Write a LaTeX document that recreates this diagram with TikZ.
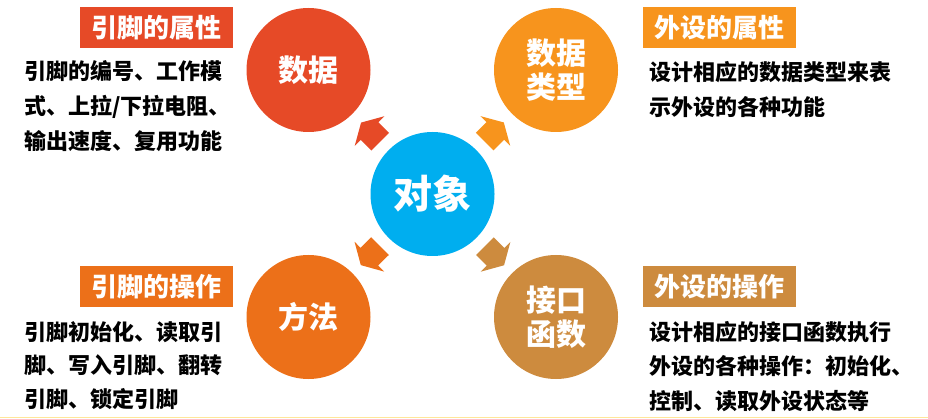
\documentclass[tikz,border=0pt]{standalone}
\usepackage{fontspec}
\newfontfamily\cjk{Noto Sans CJK SC Black}
\usetikzlibrary{calc}

\definecolor{cred}{HTML}{E64A27}
\definecolor{corange}{HTML}{F7941D}
\definecolor{cblue}{HTML}{00AEEF}
\definecolor{cdark}{HTML}{EC7019}
\definecolor{cbrown}{HTML}{CD8B3E}
\definecolor{cline}{HTML}{FFE699}

\tikzset{
  ball/.style={circle,minimum size=124pt,inner sep=0pt,text=white,align=center,
    font=\cjk\fontsize{30}{34}\selectfont},
  tag/.style={minimum width=153pt,minimum height=41pt,inner sep=0pt,text=white,
    font=\cjk\fontsize{26}{30}\selectfont},
  desc/.style={anchor=north west,inner sep=0pt,align=left,
    font=\cjk\fontsize{22}{35}\selectfont},
}

\begin{document}
\begin{tikzpicture}[x=1pt,y=-1pt]
\useasboundingbox (0,0) rectangle (928,419);
\node[ball,fill=cblue,font=\cjk\fontsize{39}{44}\selectfont] (obj) at (432.5,194) {对象};
\node[ball,fill=cred] (dat) at (308.5,70) {数据};
\node[ball,fill=corange] (typ) at (556,70) {数据\\类型};
\node[ball,fill=cdark] (met) at (308.5,317) {方法};
\node[ball,fill=cbrown] (ifn) at (556,317) {接口\\函数};

\foreach \o/\c in {dat/cred,typ/corange,met/cdark,ifn/cbrown}{
  \coordinate (p) at ($(obj.center)!74pt!(\o.center)$);
  \coordinate (q) at ($(obj.center)!89pt!(\o.center)$);
  \coordinate (r) at ($(obj.center)!101pt!(\o.center)$);
  \fill[\c] ($(p)!12.5pt!90:(r)$) -- ($(q)!12.5pt!90:(r)$) -- ($(q)!21pt!90:(r)$)
    -- (r) -- ($(q)!21pt!-90:(r)$) -- ($(q)!12.5pt!-90:(r)$) -- ($(p)!12.5pt!-90:(r)$) -- cycle;
}

\node[tag,fill=cred] (t1) at (156.5,27.5) {引脚的属性};
\node[tag,fill=corange] (t2) at (719,27.5) {外设的属性};
\node[tag,fill=cdark] (t3) at (156.5,287) {引脚的操作};
\node[tag,fill=cbrown] (t4) at (719,287) {外设的操作};

\node[desc] (d1) at (24,60) {引脚的编号、工作模\\式、上拉/下拉电阻、\\输出速度、复用功能};
\node[desc] (d2) at (649,61) {设计相应的数据类型来表\\示外设的各种功能};
\node[desc,font=\cjk\fontsize{22}{33.5}\selectfont] (d3) at (24,321) {引脚初始化、读取引\\脚、写入引脚、翻转\\引脚、锁定引脚};
\node[desc,font=\cjk\fontsize{22}{34.5}\selectfont] (d4) at (649,321) {设计相应的接口函数执行\\外设的各种操作：初始化、\\控制、读取外设状态等};

\draw[cline,line width=1.5pt] (0,417.5) -- (928,417.5);
\end{tikzpicture}
\end{document}
